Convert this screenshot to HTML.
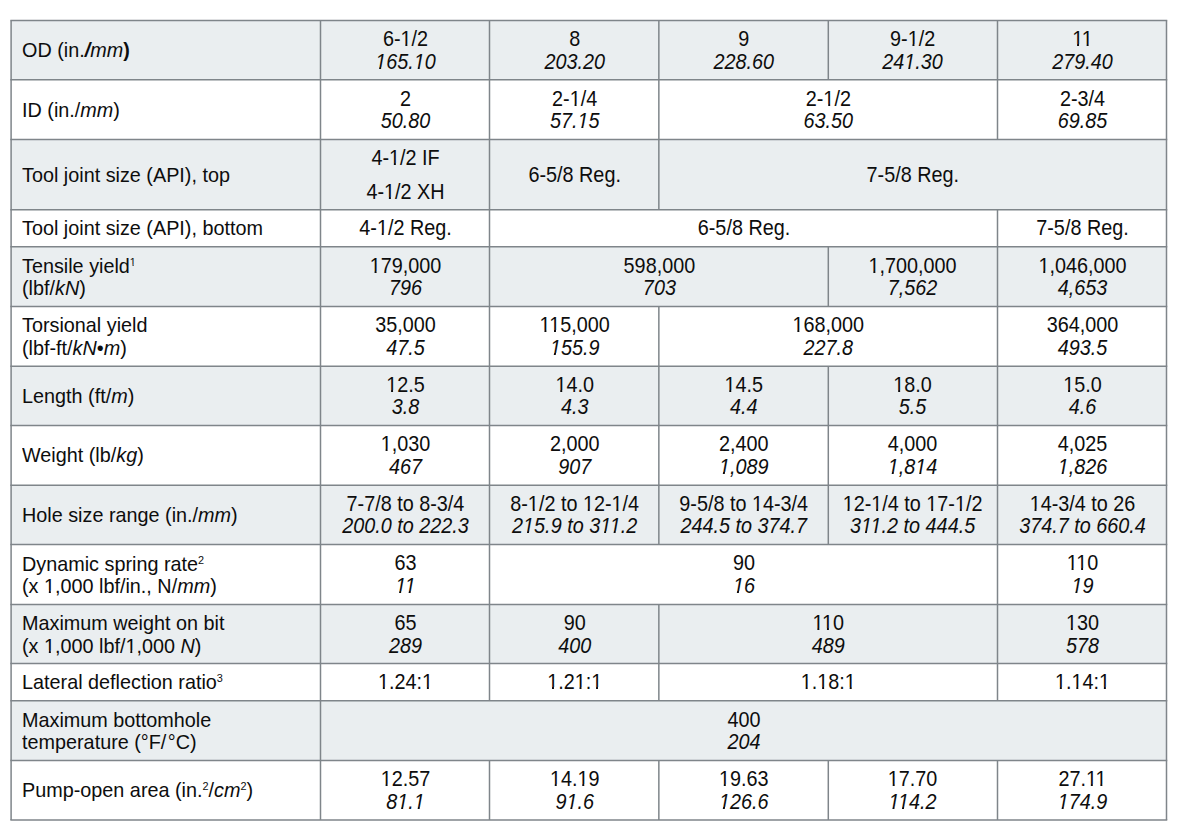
<!DOCTYPE html>
<html><head><meta charset="utf-8"><title>Drilling tool specifications</title>
<style>
html,body{margin:0;padding:0;background:#fff;}
body{width:1180px;height:831px;position:relative;overflow:hidden;font-family:"Liberation Sans",sans-serif;color:#0d0d0d;font-size:20px;}
.bg{position:absolute;background:#eaeef0;}
.t{position:absolute;white-space:nowrap;line-height:21.208px;height:21.208px;transform-origin:50% 0;transform:scale(0.99,1.06);}
.tc{text-align:center;}
.tlft{transform-origin:0 0;transform:scale(0.99,1.03);}
sup{font-size:11px;line-height:0;vertical-align:0;position:relative;top:-6.4px;}
.bu{font-size:20px;}
.o{clip-path:polygon(0 0,100% 0,100% 0.8em,0.345em 0.8em,0.345em 1.3em,0.245em 1.3em,0.245em 0.8em,0 0.8em);}
i .o{clip-path:polygon(0 0,100% 0,100% 0.8em,0.31em 0.8em,0.23em 1.3em,0.13em 1.3em,0.21em 0.8em,0 0.8em);}
svg{position:absolute;left:0;top:0;}
</style></head><body>

<div class="bg" style="left:11.1px;top:20.4px;width:1155.4px;height:59.4px"></div>
<div class="bg" style="left:11.1px;top:139.4px;width:1155.4px;height:70.3px"></div>
<div class="bg" style="left:11.1px;top:246.8px;width:1155.4px;height:59.6px"></div>
<div class="bg" style="left:11.1px;top:366.2px;width:1155.4px;height:59.3px"></div>
<div class="bg" style="left:11.1px;top:485.35px;width:1155.4px;height:59.25px"></div>
<div class="bg" style="left:11.1px;top:604.4px;width:1155.4px;height:59.2px"></div>
<div class="bg" style="left:11.1px;top:700.8px;width:1155.4px;height:59.6px"></div>
<div class="t tlft" style="left:21.9px;top:39px">OD (in.<b><i>/</i></b><i>mm</i><b>)</b></div>
<div class="t tc" style="left:320.5px;top:28px;width:169px">6-<span class="o">1</span>/2</div>
<div class="t tc" style="left:320.5px;top:51px;width:169px"><i><span class="o">1</span>65.<span class="o">1</span>0</i></div>
<div class="t tc" style="left:489.5px;top:28px;width:169.35px">8</div>
<div class="t tc" style="left:489.5px;top:51px;width:169.35px"><i>203.20</i></div>
<div class="t tc" style="left:658.85px;top:28px;width:169.45px">9</div>
<div class="t tc" style="left:658.85px;top:51px;width:169.45px"><i>228.60</i></div>
<div class="t tc" style="left:828.3px;top:28px;width:169.2px">9-<span class="o">1</span>/2</div>
<div class="t tc" style="left:828.3px;top:51px;width:169.2px"><i>24<span class="o">1</span>.30</i></div>
<div class="t tc" style="left:997.5px;top:28px;width:169px"><span class="o">1</span><span class="o">1</span></div>
<div class="t tc" style="left:997.5px;top:51px;width:169px"><i>279.40</i></div>
<div class="t tlft" style="left:21.9px;top:99px">ID (in./<i>mm</i>)</div>
<div class="t tc" style="left:320.5px;top:88px;width:169px">2</div>
<div class="t tc" style="left:320.5px;top:110px;width:169px"><i>50.80</i></div>
<div class="t tc" style="left:489.5px;top:88px;width:169.35px">2-<span class="o">1</span>/4</div>
<div class="t tc" style="left:489.5px;top:110px;width:169.35px"><i>57.<span class="o">1</span>5</i></div>
<div class="t tc" style="left:658.85px;top:88px;width:338.65px">2-<span class="o">1</span>/2</div>
<div class="t tc" style="left:658.85px;top:110px;width:338.65px"><i>63.50</i></div>
<div class="t tc" style="left:997.5px;top:88px;width:169px">2-3/4</div>
<div class="t tc" style="left:997.5px;top:110px;width:169px"><i>69.85</i></div>
<div class="t tlft" style="left:21.9px;top:164px">Tool joint size (API), top</div>
<div class="t tc" style="left:320.5px;top:147px;width:169px">4-<span class="o">1</span>/2 IF</div>
<div class="t tc" style="left:320.5px;top:181px;width:169px">4-<span class="o">1</span>/2 XH</div>
<div class="t tc" style="left:489.5px;top:164px;width:169.35px">6-5/8 Reg.</div>
<div class="t tc" style="left:658.85px;top:164px;width:507.65px">7-5/8 Reg.</div>
<div class="t tlft" style="left:21.9px;top:217px">Tool joint size (API), bottom</div>
<div class="t tc" style="left:320.5px;top:217px;width:169px">4-<span class="o">1</span>/2 Reg.</div>
<div class="t tc" style="left:489.5px;top:217px;width:508px">6-5/8 Reg.</div>
<div class="t tc" style="left:997.5px;top:217px;width:169px">7-5/8 Reg.</div>
<div class="t tlft" style="left:21.9px;top:255px">Tensile yield<sup><span class="o">1</span></sup></div>
<div class="t tlft" style="left:21.9px;top:277px">(lbf/<i>kN</i>)</div>
<div class="t tc" style="left:320.5px;top:255px;width:169px"><span class="o">1</span>79,000</div>
<div class="t tc" style="left:320.5px;top:277px;width:169px"><i>796</i></div>
<div class="t tc" style="left:489.5px;top:255px;width:338.8px">598,000</div>
<div class="t tc" style="left:489.5px;top:277px;width:338.8px"><i>703</i></div>
<div class="t tc" style="left:828.3px;top:255px;width:169.2px"><span class="o">1</span>,700,000</div>
<div class="t tc" style="left:828.3px;top:277px;width:169.2px"><i>7,562</i></div>
<div class="t tc" style="left:997.5px;top:255px;width:169px"><span class="o">1</span>,046,000</div>
<div class="t tc" style="left:997.5px;top:277px;width:169px"><i>4,653</i></div>
<div class="t tlft" style="left:21.9px;top:314px">Torsional yield</div>
<div class="t tlft" style="left:21.9px;top:337px">(lbf-ft/<i>kN</i><span class="bu">&bull;</span><i>m</i>)</div>
<div class="t tc" style="left:320.5px;top:314px;width:169px">35,000</div>
<div class="t tc" style="left:320.5px;top:337px;width:169px"><i>47.5</i></div>
<div class="t tc" style="left:489.5px;top:314px;width:169.35px"><span class="o">1</span><span class="o">1</span>5,000</div>
<div class="t tc" style="left:489.5px;top:337px;width:169.35px"><i><span class="o">1</span>55.9</i></div>
<div class="t tc" style="left:658.85px;top:314px;width:338.65px"><span class="o">1</span>68,000</div>
<div class="t tc" style="left:658.85px;top:337px;width:338.65px"><i>227.8</i></div>
<div class="t tc" style="left:997.5px;top:314px;width:169px">364,000</div>
<div class="t tc" style="left:997.5px;top:337px;width:169px"><i>493.5</i></div>
<div class="t tlft" style="left:21.9px;top:385px">Length (ft/<i>m</i>)</div>
<div class="t tc" style="left:320.5px;top:374px;width:169px"><span class="o">1</span>2.5</div>
<div class="t tc" style="left:320.5px;top:396px;width:169px"><i>3.8</i></div>
<div class="t tc" style="left:489.5px;top:374px;width:169.35px"><span class="o">1</span>4.0</div>
<div class="t tc" style="left:489.5px;top:396px;width:169.35px"><i>4.3</i></div>
<div class="t tc" style="left:658.85px;top:374px;width:169.45px"><span class="o">1</span>4.5</div>
<div class="t tc" style="left:658.85px;top:396px;width:169.45px"><i>4.4</i></div>
<div class="t tc" style="left:828.3px;top:374px;width:169.2px"><span class="o">1</span>8.0</div>
<div class="t tc" style="left:828.3px;top:396px;width:169.2px"><i>5.5</i></div>
<div class="t tc" style="left:997.5px;top:374px;width:169px"><span class="o">1</span>5.0</div>
<div class="t tc" style="left:997.5px;top:396px;width:169px"><i>4.6</i></div>
<div class="t tlft" style="left:21.9px;top:444px">Weight (lb/<i>kg</i>)</div>
<div class="t tc" style="left:320.5px;top:433px;width:169px"><span class="o">1</span>,030</div>
<div class="t tc" style="left:320.5px;top:456px;width:169px"><i>467</i></div>
<div class="t tc" style="left:489.5px;top:433px;width:169.35px">2,000</div>
<div class="t tc" style="left:489.5px;top:456px;width:169.35px"><i>907</i></div>
<div class="t tc" style="left:658.85px;top:433px;width:169.45px">2,400</div>
<div class="t tc" style="left:658.85px;top:456px;width:169.45px"><i><span class="o">1</span>,089</i></div>
<div class="t tc" style="left:828.3px;top:433px;width:169.2px">4,000</div>
<div class="t tc" style="left:828.3px;top:456px;width:169.2px"><i><span class="o">1</span>,8<span class="o">1</span>4</i></div>
<div class="t tc" style="left:997.5px;top:433px;width:169px">4,025</div>
<div class="t tc" style="left:997.5px;top:456px;width:169px"><i><span class="o">1</span>,826</i></div>
<div class="t tlft" style="left:21.9px;top:504px">Hole size range (in./<i>mm</i>)</div>
<div class="t tc" style="left:320.5px;top:493px;width:169px">7-7/8 to 8-3/4</div>
<div class="t tc" style="left:320.5px;top:515px;width:169px"><i>200.0 to 222.3</i></div>
<div class="t tc" style="left:489.5px;top:493px;width:169.35px">8-<span class="o">1</span>/2 to <span class="o">1</span>2-<span class="o">1</span>/4</div>
<div class="t tc" style="left:489.5px;top:515px;width:169.35px"><i>2<span class="o">1</span>5.9 to 3<span class="o">1</span><span class="o">1</span>.2</i></div>
<div class="t tc" style="left:658.85px;top:493px;width:169.45px">9-5/8 to <span class="o">1</span>4-3/4</div>
<div class="t tc" style="left:658.85px;top:515px;width:169.45px"><i>244.5 to 374.7</i></div>
<div class="t tc" style="left:828.3px;top:493px;width:169.2px"><span class="o">1</span>2-<span class="o">1</span>/4 to <span class="o">1</span>7-<span class="o">1</span>/2</div>
<div class="t tc" style="left:828.3px;top:515px;width:169.2px"><i>3<span class="o">1</span><span class="o">1</span>.2 to 444.5</i></div>
<div class="t tc" style="left:997.5px;top:493px;width:169px"><span class="o">1</span>4-3/4 to 26</div>
<div class="t tc" style="left:997.5px;top:515px;width:169px"><i>374.7 to 660.4</i></div>
<div class="t tlft" style="left:21.9px;top:553px">Dynamic spring rate<sup>2</sup></div>
<div class="t tlft" style="left:21.9px;top:575px">(x <span class="o">1</span>,000 lbf/in., N/<i>mm</i>)</div>
<div class="t tc" style="left:320.5px;top:552px;width:169px">63</div>
<div class="t tc" style="left:320.5px;top:575px;width:169px"><i><span class="o">1</span><span class="o">1</span></i></div>
<div class="t tc" style="left:489.5px;top:552px;width:508px">90</div>
<div class="t tc" style="left:489.5px;top:575px;width:508px"><i><span class="o">1</span>6</i></div>
<div class="t tc" style="left:997.5px;top:552px;width:169px"><span class="o">1</span><span class="o">1</span>0</div>
<div class="t tc" style="left:997.5px;top:575px;width:169px"><i><span class="o">1</span>9</i></div>
<div class="t tlft" style="left:21.9px;top:612px">Maximum weight on bit</div>
<div class="t tlft" style="left:21.9px;top:635px">(x <span class="o">1</span>,000 lbf/<span class="o">1</span>,000 <i>N</i>)</div>
<div class="t tc" style="left:320.5px;top:612px;width:169px">65</div>
<div class="t tc" style="left:320.5px;top:635px;width:169px"><i>289</i></div>
<div class="t tc" style="left:489.5px;top:612px;width:169.35px">90</div>
<div class="t tc" style="left:489.5px;top:635px;width:169.35px"><i>400</i></div>
<div class="t tc" style="left:658.85px;top:612px;width:338.65px"><span class="o">1</span><span class="o">1</span>0</div>
<div class="t tc" style="left:658.85px;top:635px;width:338.65px"><i>489</i></div>
<div class="t tc" style="left:997.5px;top:612px;width:169px"><span class="o">1</span>30</div>
<div class="t tc" style="left:997.5px;top:635px;width:169px"><i>578</i></div>
<div class="t tlft" style="left:21.9px;top:671px">Lateral deflection ratio<sup>3</sup></div>
<div class="t tc" style="left:320.5px;top:671px;width:169px"><span class="o">1</span>.24:<span class="o">1</span></div>
<div class="t tc" style="left:489.5px;top:671px;width:169.35px"><span class="o">1</span>.2<span class="o">1</span>:<span class="o">1</span></div>
<div class="t tc" style="left:658.85px;top:671px;width:338.65px"><span class="o">1</span>.<span class="o">1</span>8:<span class="o">1</span></div>
<div class="t tc" style="left:997.5px;top:671px;width:169px"><span class="o">1</span>.<span class="o">1</span>4:<span class="o">1</span></div>
<div class="t tlft" style="left:21.9px;top:709px">Maximum bottomhole</div>
<div class="t tlft" style="left:21.9px;top:731px">temperature (&deg;F/<span style="margin-left:1.5px">&deg;C</span>)</div>
<div class="t tc" style="left:320.5px;top:709px;width:846px">400</div>
<div class="t tc" style="left:320.5px;top:731px;width:846px"><i>204</i></div>
<div class="t tlft" style="left:21.9px;top:779px">Pump-open area (in.<sup>2</sup>/<i>cm</i><sup>2</sup>)</div>
<div class="t tc" style="left:320.5px;top:768px;width:169px"><span class="o">1</span>2.57</div>
<div class="t tc" style="left:320.5px;top:791px;width:169px"><i>8<span class="o">1</span>.<span class="o">1</span></i></div>
<div class="t tc" style="left:489.5px;top:768px;width:169.35px"><span class="o">1</span>4.<span class="o">1</span>9</div>
<div class="t tc" style="left:489.5px;top:791px;width:169.35px"><i>9<span class="o">1</span>.6</i></div>
<div class="t tc" style="left:658.85px;top:768px;width:169.45px"><span class="o">1</span>9.63</div>
<div class="t tc" style="left:658.85px;top:791px;width:169.45px"><i><span class="o">1</span>26.6</i></div>
<div class="t tc" style="left:828.3px;top:768px;width:169.2px"><span class="o">1</span>7.70</div>
<div class="t tc" style="left:828.3px;top:791px;width:169.2px"><i><span class="o">1</span><span class="o">1</span>4.2</i></div>
<div class="t tc" style="left:997.5px;top:768px;width:169px">27.<span class="o">1</span><span class="o">1</span></div>
<div class="t tc" style="left:997.5px;top:791px;width:169px"><i><span class="o">1</span>74.9</i></div>
<svg width="1180" height="831" viewBox="0 0 1180 831">
<g stroke="#7f858a" stroke-width="1.5" fill="none">
<line x1="10.35" y1="20.4" x2="1167.25" y2="20.4"/>
<line x1="10.35" y1="79.8" x2="1167.25" y2="79.8"/>
<line x1="10.35" y1="139.4" x2="1167.25" y2="139.4"/>
<line x1="10.35" y1="209.7" x2="1167.25" y2="209.7"/>
<line x1="10.35" y1="246.8" x2="1167.25" y2="246.8"/>
<line x1="10.35" y1="306.4" x2="1167.25" y2="306.4"/>
<line x1="10.35" y1="366.2" x2="1167.25" y2="366.2"/>
<line x1="10.35" y1="425.5" x2="1167.25" y2="425.5"/>
<line x1="10.35" y1="485.35" x2="1167.25" y2="485.35"/>
<line x1="10.35" y1="544.6" x2="1167.25" y2="544.6"/>
<line x1="10.35" y1="604.4" x2="1167.25" y2="604.4"/>
<line x1="10.35" y1="663.6" x2="1167.25" y2="663.6"/>
<line x1="10.35" y1="700.8" x2="1167.25" y2="700.8"/>
<line x1="10.35" y1="760.4" x2="1167.25" y2="760.4"/>
<line x1="10.35" y1="819.9" x2="1167.25" y2="819.9"/>
<line x1="11.1" y1="20.4" x2="11.1" y2="819.9"/>
<line x1="1166.5" y1="20.4" x2="1166.5" y2="819.9"/>
<line x1="320.5" y1="20.4" x2="320.5" y2="79.8"/>
<line x1="489.5" y1="20.4" x2="489.5" y2="79.8"/>
<line x1="658.85" y1="20.4" x2="658.85" y2="79.8"/>
<line x1="828.3" y1="20.4" x2="828.3" y2="79.8"/>
<line x1="997.5" y1="20.4" x2="997.5" y2="79.8"/>
<line x1="320.5" y1="79.8" x2="320.5" y2="139.4"/>
<line x1="489.5" y1="79.8" x2="489.5" y2="139.4"/>
<line x1="658.85" y1="79.8" x2="658.85" y2="139.4"/>
<line x1="997.5" y1="79.8" x2="997.5" y2="139.4"/>
<line x1="320.5" y1="139.4" x2="320.5" y2="209.7"/>
<line x1="489.5" y1="139.4" x2="489.5" y2="209.7"/>
<line x1="658.85" y1="139.4" x2="658.85" y2="209.7"/>
<line x1="320.5" y1="209.7" x2="320.5" y2="246.8"/>
<line x1="489.5" y1="209.7" x2="489.5" y2="246.8"/>
<line x1="997.5" y1="209.7" x2="997.5" y2="246.8"/>
<line x1="320.5" y1="246.8" x2="320.5" y2="306.4"/>
<line x1="489.5" y1="246.8" x2="489.5" y2="306.4"/>
<line x1="828.3" y1="246.8" x2="828.3" y2="306.4"/>
<line x1="997.5" y1="246.8" x2="997.5" y2="306.4"/>
<line x1="320.5" y1="306.4" x2="320.5" y2="366.2"/>
<line x1="489.5" y1="306.4" x2="489.5" y2="366.2"/>
<line x1="658.85" y1="306.4" x2="658.85" y2="366.2"/>
<line x1="997.5" y1="306.4" x2="997.5" y2="366.2"/>
<line x1="320.5" y1="366.2" x2="320.5" y2="425.5"/>
<line x1="489.5" y1="366.2" x2="489.5" y2="425.5"/>
<line x1="658.85" y1="366.2" x2="658.85" y2="425.5"/>
<line x1="828.3" y1="366.2" x2="828.3" y2="425.5"/>
<line x1="997.5" y1="366.2" x2="997.5" y2="425.5"/>
<line x1="320.5" y1="425.5" x2="320.5" y2="485.35"/>
<line x1="489.5" y1="425.5" x2="489.5" y2="485.35"/>
<line x1="658.85" y1="425.5" x2="658.85" y2="485.35"/>
<line x1="828.3" y1="425.5" x2="828.3" y2="485.35"/>
<line x1="997.5" y1="425.5" x2="997.5" y2="485.35"/>
<line x1="320.5" y1="485.35" x2="320.5" y2="544.6"/>
<line x1="489.5" y1="485.35" x2="489.5" y2="544.6"/>
<line x1="658.85" y1="485.35" x2="658.85" y2="544.6"/>
<line x1="828.3" y1="485.35" x2="828.3" y2="544.6"/>
<line x1="997.5" y1="485.35" x2="997.5" y2="544.6"/>
<line x1="320.5" y1="544.6" x2="320.5" y2="604.4"/>
<line x1="489.5" y1="544.6" x2="489.5" y2="604.4"/>
<line x1="997.5" y1="544.6" x2="997.5" y2="604.4"/>
<line x1="320.5" y1="604.4" x2="320.5" y2="663.6"/>
<line x1="489.5" y1="604.4" x2="489.5" y2="663.6"/>
<line x1="658.85" y1="604.4" x2="658.85" y2="663.6"/>
<line x1="997.5" y1="604.4" x2="997.5" y2="663.6"/>
<line x1="320.5" y1="663.6" x2="320.5" y2="700.8"/>
<line x1="489.5" y1="663.6" x2="489.5" y2="700.8"/>
<line x1="658.85" y1="663.6" x2="658.85" y2="700.8"/>
<line x1="997.5" y1="663.6" x2="997.5" y2="700.8"/>
<line x1="320.5" y1="700.8" x2="320.5" y2="760.4"/>
<line x1="320.5" y1="760.4" x2="320.5" y2="819.9"/>
<line x1="489.5" y1="760.4" x2="489.5" y2="819.9"/>
<line x1="658.85" y1="760.4" x2="658.85" y2="819.9"/>
<line x1="828.3" y1="760.4" x2="828.3" y2="819.9"/>
<line x1="997.5" y1="760.4" x2="997.5" y2="819.9"/>
</g></svg>

</body></html>
